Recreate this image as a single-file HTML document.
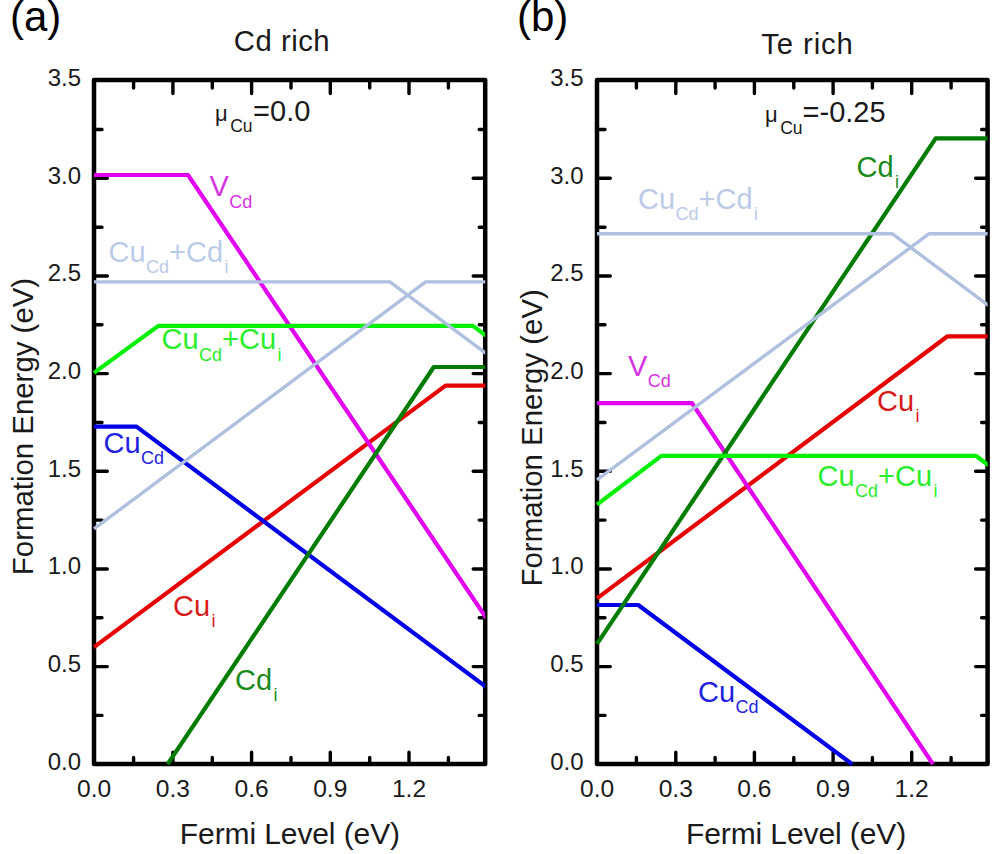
<!DOCTYPE html>
<html><head><meta charset="utf-8"><style>
html,body{margin:0;padding:0;background:#fff;width:1000px;height:854px;overflow:hidden}
svg{display:block;font-family:"Liberation Sans", sans-serif}
</style></head><body>
<svg width="1000" height="854" viewBox="0 0 1000 854">
<rect width="1000" height="854" fill="#fff"/>
<g>
<path d="M133.6,80.0V88.0M133.6,764.0V757.5M172.9,80.0V93.5M172.9,764.0V752.2M212.3,80.0V88.0M212.3,764.0V757.5M251.6,80.0V93.5M251.6,764.0V752.2M291.0,80.0V88.0M291.0,764.0V757.5M330.3,80.0V93.5M330.3,764.0V752.2M369.7,80.0V88.0M369.7,764.0V757.5M409.0,80.0V93.5M409.0,764.0V752.2M448.4,80.0V88.0M448.4,764.0V757.5M94.0,715.4H102.0M485.2,715.4H479.2M94.0,666.6H107.3M485.2,666.6H473.2M94.0,617.8H102.0M485.2,617.8H479.2M94.0,569.0H107.3M485.2,569.0H473.2M94.0,520.1H102.0M485.2,520.1H479.2M94.0,471.3H107.3M485.2,471.3H473.2M94.0,422.5H102.0M485.2,422.5H479.2M94.0,373.6H107.3M485.2,373.6H473.2M94.0,324.8H102.0M485.2,324.8H479.2M94.0,276.0H107.3M485.2,276.0H473.2M94.0,227.2H102.0M485.2,227.2H479.2M94.0,178.3H107.3M485.2,178.3H473.2M94.0,129.5H102.0M485.2,129.5H479.2" stroke="#000" stroke-width="3.4" stroke-linecap="round" fill="none"/>
<rect x="94.0" y="80.0" width="391.2" height="684.0" stroke="#000" stroke-width="4.5" fill="none" stroke-linejoin="round"/>
<clipPath id="clipa"><rect x="92.0" y="80.0" width="393.2" height="686.0"/></clipPath>
<g clip-path="url(#clipa)" fill="none" stroke-linejoin="round">
<polyline points="94.0,647.1 445.5,385.6 487.0,385.6" stroke="#e60000" stroke-width="4.2"/>
<polyline points="94.0,426.6 136.5,426.6 487.0,687.6" stroke="#0000e6" stroke-width="4.2"/>
<polyline points="94.0,175.0 188.0,175.0 487.0,619.0" stroke="#e100f0" stroke-width="4.2"/>
<polyline points="167.6,764.2 433.8,367.0 487.0,367.0" stroke="#007d00" stroke-width="4.2"/>
<polyline points="94.0,372.9 158.3,325.9 472.9,325.9 487.0,336.4" stroke="#00f000" stroke-width="4.2"/>
<polyline points="94.0,281.9 389.9,281.9 487.0,354.2" stroke="#afc0e0" stroke-width="3.4"/>
<polyline points="94.0,528.9 425.6,281.9 487.0,281.9" stroke="#afc0e0" stroke-width="3.4"/>
</g>
<text x="81" y="769.5" font-size="24" fill="#1a1a1a" text-anchor="end" >0.0</text>
<text x="81" y="671.9" font-size="24" fill="#1a1a1a" text-anchor="end" >0.5</text>
<text x="81" y="574.2" font-size="24" fill="#1a1a1a" text-anchor="end" >1.0</text>
<text x="81" y="476.6" font-size="24" fill="#1a1a1a" text-anchor="end" >1.5</text>
<text x="81" y="378.9" font-size="24" fill="#1a1a1a" text-anchor="end" >2.0</text>
<text x="81" y="281.3" font-size="24" fill="#1a1a1a" text-anchor="end" >2.5</text>
<text x="81" y="183.6" font-size="24" fill="#1a1a1a" text-anchor="end" >3.0</text>
<text x="81" y="86.0" font-size="24" fill="#1a1a1a" text-anchor="end" >3.5</text>
<text x="94.2" y="796.7" font-size="24.6" fill="#1a1a1a" text-anchor="middle" >0.0</text>
<text x="172.9" y="796.7" font-size="24.6" fill="#1a1a1a" text-anchor="middle" >0.3</text>
<text x="251.6" y="796.7" font-size="24.6" fill="#1a1a1a" text-anchor="middle" >0.6</text>
<text x="330.3" y="796.7" font-size="24.6" fill="#1a1a1a" text-anchor="middle" >0.9</text>
<text x="409.0" y="796.7" font-size="24.6" fill="#1a1a1a" text-anchor="middle" >1.2</text>
<text x="289.9" y="843.7" font-size="30" fill="#1a1a1a" text-anchor="middle" letter-spacing="-0.1">Fermi Level (eV)</text>
<text transform="translate(32.5,426.5) rotate(-90)" font-size="29.4" fill="#1a1a1a" text-anchor="middle">Formation Energy (eV)</text>
<path d="M636.4,80.0V88.0M636.4,764.0V757.5M675.8,80.0V93.5M675.8,764.0V752.2M715.1,80.0V88.0M715.1,764.0V757.5M754.4,80.0V93.5M754.4,764.0V752.2M793.8,80.0V88.0M793.8,764.0V757.5M833.1,80.0V93.5M833.1,764.0V752.2M872.4,80.0V88.0M872.4,764.0V757.5M911.7,80.0V93.5M911.7,764.0V752.2M951.1,80.0V88.0M951.1,764.0V757.5M597.0,715.4H605.0M987.6,715.4H981.6M597.0,666.6H610.3M987.6,666.6H975.6M597.0,617.8H605.0M987.6,617.8H981.6M597.0,569.0H610.3M987.6,569.0H975.6M597.0,520.1H605.0M987.6,520.1H981.6M597.0,471.3H610.3M987.6,471.3H975.6M597.0,422.5H605.0M987.6,422.5H981.6M597.0,373.6H610.3M987.6,373.6H975.6M597.0,324.8H605.0M987.6,324.8H981.6M597.0,276.0H610.3M987.6,276.0H975.6M597.0,227.2H605.0M987.6,227.2H981.6M597.0,178.3H610.3M987.6,178.3H975.6M597.0,129.5H605.0M987.6,129.5H981.6" stroke="#000" stroke-width="3.4" stroke-linecap="round" fill="none"/>
<rect x="597.0" y="80.0" width="390.6" height="684.0" stroke="#000" stroke-width="4.5" fill="none" stroke-linejoin="round"/>
<clipPath id="clipb"><rect x="595.0" y="80.0" width="392.6" height="686.0"/></clipPath>
<g clip-path="url(#clipb)" fill="none" stroke-linejoin="round">
<polyline points="597.0,598.4 947.5,336.3 990.0,336.3" stroke="#e60000" stroke-width="4.2"/>
<polyline points="597.0,605.0 638.2,605.0 852.2,764.2" stroke="#0000e6" stroke-width="4.2"/>
<polyline points="597.0,403.2 692.0,403.2 933.0,764.2" stroke="#e100f0" stroke-width="4.2"/>
<polyline points="597.0,643.9 935.7,138.3 990.0,138.3" stroke="#007d00" stroke-width="4.2"/>
<polyline points="597.0,504.6 661.3,455.8 975.9,455.8 990.0,466.3" stroke="#00f000" stroke-width="4.2"/>
<polyline points="597.0,233.7 892.1,233.7 990.0,306.6" stroke="#afc0e0" stroke-width="3.4"/>
<polyline points="597.0,479.8 929.2,233.7 990.0,233.7" stroke="#afc0e0" stroke-width="3.4"/>
</g>
<text x="583.5" y="769.5" font-size="24" fill="#1a1a1a" text-anchor="end" >0.0</text>
<text x="583.5" y="671.9" font-size="24" fill="#1a1a1a" text-anchor="end" >0.5</text>
<text x="583.5" y="574.2" font-size="24" fill="#1a1a1a" text-anchor="end" >1.0</text>
<text x="583.5" y="476.6" font-size="24" fill="#1a1a1a" text-anchor="end" >1.5</text>
<text x="583.5" y="378.9" font-size="24" fill="#1a1a1a" text-anchor="end" >2.0</text>
<text x="583.5" y="281.3" font-size="24" fill="#1a1a1a" text-anchor="end" >2.5</text>
<text x="583.5" y="183.6" font-size="24" fill="#1a1a1a" text-anchor="end" >3.0</text>
<text x="583.5" y="86.0" font-size="24" fill="#1a1a1a" text-anchor="end" >3.5</text>
<text x="597.1" y="796.7" font-size="24.6" fill="#1a1a1a" text-anchor="middle" >0.0</text>
<text x="675.8" y="796.7" font-size="24.6" fill="#1a1a1a" text-anchor="middle" >0.3</text>
<text x="754.4" y="796.7" font-size="24.6" fill="#1a1a1a" text-anchor="middle" >0.6</text>
<text x="833.1" y="796.7" font-size="24.6" fill="#1a1a1a" text-anchor="middle" >0.9</text>
<text x="911.7" y="796.7" font-size="24.6" fill="#1a1a1a" text-anchor="middle" >1.2</text>
<text x="796.0" y="843.7" font-size="30" fill="#1a1a1a" text-anchor="middle" letter-spacing="-0.1">Fermi Level (eV)</text>
<text transform="translate(542,437.8) rotate(-90)" font-size="29.4" fill="#1a1a1a" text-anchor="middle">Formation Energy (eV)</text>
<text x="10" y="31" font-size="42" fill="#000" text-anchor="start" >(a)</text>
<text x="517" y="31" font-size="42" fill="#000" text-anchor="start" >(b)</text>
<text x="282" y="51.2" font-size="29.3" fill="#1a1a1a" text-anchor="middle" letter-spacing="0.5">Cd rich</text>
<text x="807.5" y="54" font-size="29.3" fill="#1a1a1a" text-anchor="middle" letter-spacing="0.9">Te rich</text>
<text x="215" y="121" font-size="22" fill="#1a1a1a">μ<tspan font-size="17.5" dx="2.5" dy="11">Cu</tspan><tspan font-size="29" dx="0.5" dy="-11">=0.0</tspan></text>
<text x="765" y="122.2" font-size="22" fill="#1a1a1a">μ<tspan font-size="17.5" dx="2.5" dy="11.5">Cu</tspan><tspan font-size="29" dx="0" dy="-11.5">=-0.25</tspan></text>
<text x="209.5" y="196.2" fill="#d535e0" font-size="29"><tspan font-size="29">V</tspan><tspan font-size="18" dx="0.5" dy="12">Cd</tspan></text>
<text x="108.5" y="262.1" fill="#bccbe8" font-size="29"><tspan font-size="29">Cu</tspan><tspan font-size="18" dx="0.5" dy="11">Cd</tspan><tspan font-size="29" dy="-11">+Cd</tspan><tspan font-size="18" dx="1.5" dy="11">i</tspan></text>
<text x="161.5" y="349.2" fill="#2aee2a" font-size="29"><tspan font-size="29">Cu</tspan><tspan font-size="18" dx="0.5" dy="12">Cd</tspan><tspan font-size="29" dy="-12">+Cu</tspan><tspan font-size="18" dx="1.5" dy="12">i</tspan></text>
<text x="103.5" y="452.6" fill="#2222e0" font-size="29"><tspan font-size="29">Cu</tspan><tspan font-size="18" dx="0.5" dy="11">Cd</tspan></text>
<text x="173" y="615.6" fill="#d81a1a" font-size="29"><tspan font-size="29">Cu</tspan><tspan font-size="18" dx="1.5" dy="11">i</tspan></text>
<text x="235" y="690" fill="#1a8a1a" font-size="29"><tspan font-size="29">Cd</tspan><tspan font-size="18" dx="1.5" dy="11">i</tspan></text>
<text x="628" y="376" fill="#d535e0" font-size="29"><tspan font-size="29">V</tspan><tspan font-size="18" dx="0.5" dy="11">Cd</tspan></text>
<text x="638" y="208.5" fill="#bccbe8" font-size="29"><tspan font-size="29">Cu</tspan><tspan font-size="18" dx="0.5" dy="11">Cd</tspan><tspan font-size="29" dy="-11">+Cd</tspan><tspan font-size="18" dx="1.5" dy="11">i</tspan></text>
<text x="817.5" y="486" fill="#2aee2a" font-size="29"><tspan font-size="29">Cu</tspan><tspan font-size="18" dx="0.5" dy="11">Cd</tspan><tspan font-size="29" dy="-11">+Cu</tspan><tspan font-size="18" dx="1.5" dy="11">i</tspan></text>
<text x="698" y="702" fill="#2222e0" font-size="29"><tspan font-size="29">Cu</tspan><tspan font-size="18" dx="0.5" dy="11">Cd</tspan></text>
<text x="877" y="410.8" fill="#d81a1a" font-size="29"><tspan font-size="29">Cu</tspan><tspan font-size="18" dx="1.5" dy="11">i</tspan></text>
<text x="856.5" y="177.2" fill="#1a8a1a" font-size="29"><tspan font-size="29">Cd</tspan><tspan font-size="18" dx="1.5" dy="11">i</tspan></text>
</g>
</svg>
</body></html>
